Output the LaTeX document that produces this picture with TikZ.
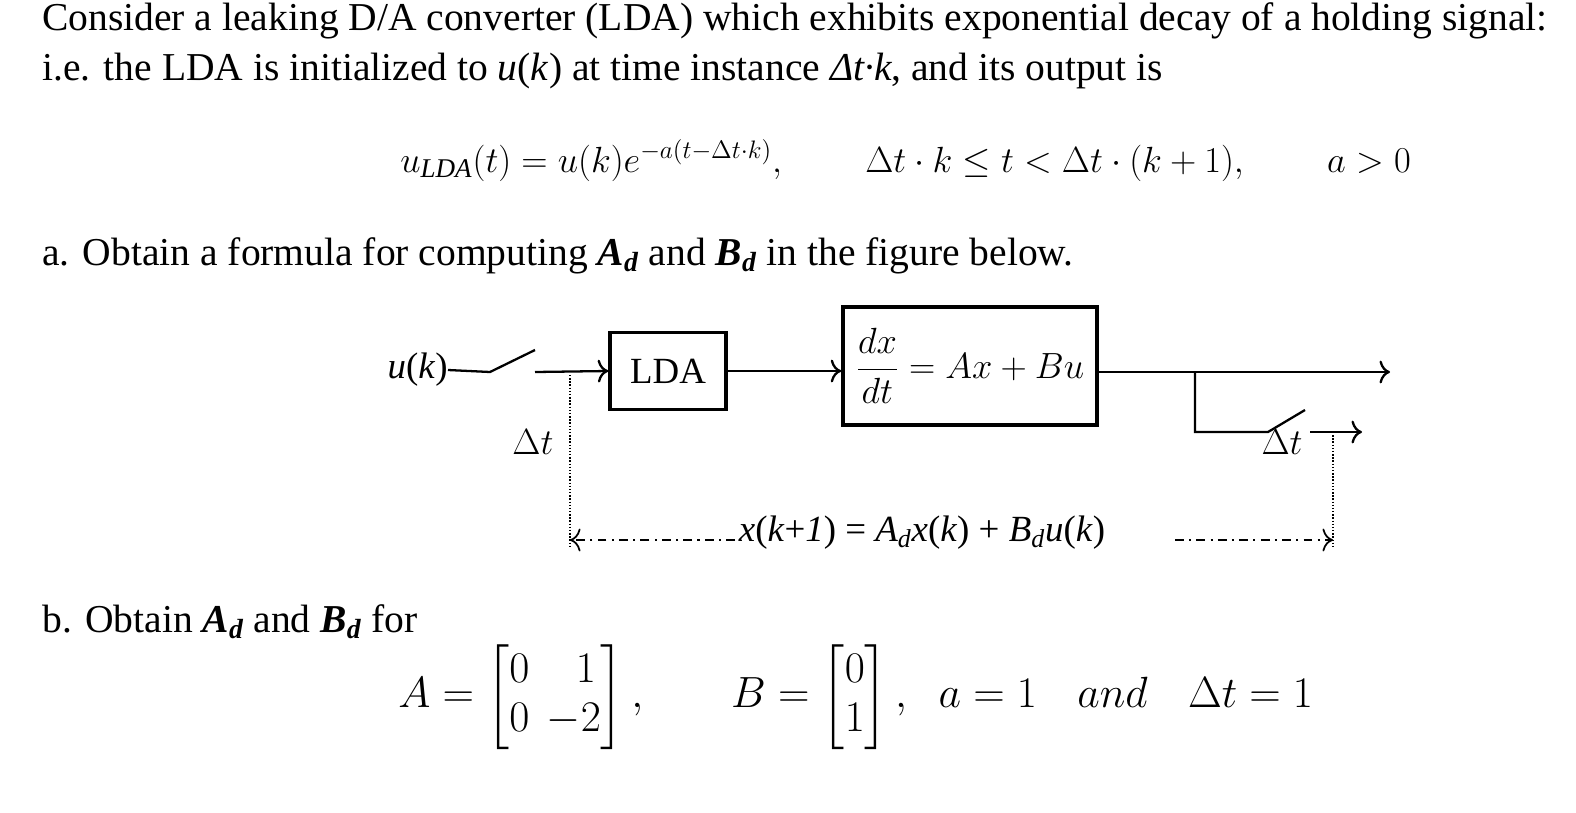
\documentclass[tikz,border=0pt]{standalone}
\usepackage{amsmath}
\usepackage{fontspec}
\setmainfont{Liberation Serif}
\usetikzlibrary{arrows.meta}
\begin{document}
\begin{tikzpicture}[x=0.02cm,y=-0.02cm,
 txt/.style={anchor=base west,inner sep=0,font=\fontsize{22.5}{27}\selectfont},
 lbl/.style={inner sep=0,font=\fontsize{21}{25}\selectfont},
 ln/.style={line width=1.3pt},
 arr/.style={ln,-{To[length=6pt,width=13pt]}},
 dd/.style={line width=1pt,dash pattern=on 5pt off 3pt on 1.2pt off 3pt,-{To[length=6pt,width=13pt]}},
 blk/.style={draw,line width=2pt,inner sep=0}]
\useasboundingbox (0,0) rectangle (1576,812);
\node[txt] (t1) at (42,30) {Consider a leaking D/A converter (LDA) which exhibits exponential decay of a holding signal:};
\node[txt] (t2) at (42,80) {i.e. the LDA is initialized to \textit{u}(\textit{k}) at time instance \textit{Δt·k}, and its output is};
\node[lbl,anchor=base west,font=\fontsize{22}{26}\selectfont] (eq) at (400,172) {$u_{\mathit{LDA}}(t)=u(k)e^{-a(t-\Delta t\cdot k)},\qquad \Delta t\cdot k\le t<\Delta t\cdot(k+1),\qquad a>0$};
\node[txt] (ta) at (42,265) {a. Obtain a formula for computing \textbf{\textit{A\textsubscript{d}}} and \textbf{\textit{B\textsubscript{d}}} in the figure below.};
\node[txt] (tb) at (42,632) {b. Obtain \textbf{\textit{A\textsubscript{d}}} and \textbf{\textit{B\textsubscript{d}}} for};
\node[lbl,anchor=west,font=\fontsize{23}{28}\selectfont] (mA) at (398,697) {$A=\begin{bmatrix}0&\;\;1\\0&-2\end{bmatrix},\qquad B=\begin{bmatrix}0\\1\end{bmatrix},\;\; a=1\quad and\quad \Delta t=1$};
% diagram
\node[lbl,anchor=east] (u) at (448,370) {\textit{u}(\textit{k})};
\node[blk,minimum width=2.32cm,minimum height=1.54cm,font=\fontsize{21}{25}\selectfont] (lda) at (668,371) {LDA};
\node[blk,minimum width=5.08cm,minimum height=2.36cm,font=\fontsize{22}{26}\selectfont] (sys) at (970,366) {$\dfrac{dx}{dt}=Ax+Bu$};
\coordinate (s1a) at (490,372); \coordinate (s1b) at (535,350); \coordinate (s1c) at (535,372);
\draw[ln] (u.east) -- (s1a) -- (s1b);
\draw[arr] (s1c) -- (lda.west);
\draw[arr] (lda.east) -- (sys.west |- lda.east);
\coordinate (out) at (1390,372); \coordinate (br) at (1195,372);
\draw[arr] (sys.east |- out) -- (out);
\coordinate (s2a) at (1195,432); \coordinate (s2b) at (1268,432); \coordinate (s2c) at (1305,410);
\coordinate (s2d) at (1310,432); \coordinate (s2e) at (1362,432);
\draw[ln] (br) -- (s2a) -- (s2b) -- (s2c);
\draw[arr] (s2d) -- (s2e);
\node[lbl] (dt1) at (533,442) {$\Delta t$};
\node[lbl] (dt2) at (1282,442) {$\Delta t$};
\coordinate (v1t) at (570,375); \coordinate (v1b) at (570,548);
\coordinate (v2t) at (1333,432); \coordinate (v2b) at (1333,548);
\draw[densely dotted,line width=0.8pt] (v1t) -- (v1b);
\draw[densely dotted,line width=0.8pt] (v2t) -- (v2b);
\node[lbl] (xe) at (922,533) {\textit{x}(\textit{k}+\textit{1}) = \textit{A\textsubscript{d}x}(\textit{k}) + \textit{B\textsubscript{d}u}(\textit{k})};
\coordinate (d1s) at (735,540); \coordinate (d1e) at (570,540);
\coordinate (d2s) at (1175,540); \coordinate (d2e) at (1333,540);
\draw[dd] (d1s) -- (d1e);
\draw[dd] (d2s) -- (d2e);
\end{tikzpicture}
\end{document}
